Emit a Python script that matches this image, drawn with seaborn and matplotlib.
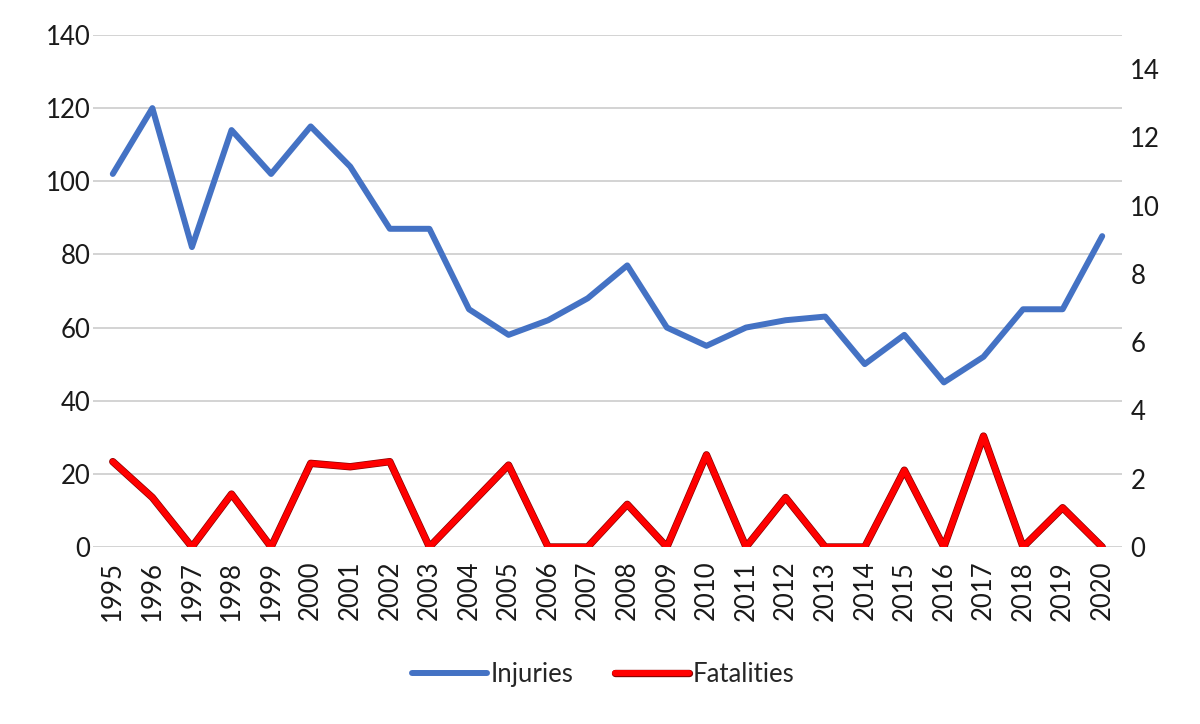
import matplotlib
matplotlib.use("Agg")
import matplotlib.pyplot as plt
import matplotlib.patheffects as pe
import seaborn as sns
import pandas as pd

years = list(range(1995, 2021))
injuries = [102, 120, 82, 114, 102, 115, 104, 87, 87, 65, 58, 62, 68, 77, 60,
            55, 60, 62, 63, 50, 58, 45, 52, 65, 65, 85]
fatalities = [2.5, 1.45, 0, 1.55, 0, 2.45, 2.35, 2.5, 0, 1.2, 2.4, 0, 0, 1.25, 0,
              2.7, 0, 1.45, 0, 0, 2.25, 0, 3.25, 0, 1.15, 0]

df = pd.DataFrame({"YEAR": [str(y) for y in years], "INJURIES": injuries, "FATALITIES": fatalities})
df["POS"] = range(len(df))

sns.set_style("white")
plt.rcParams["font.family"] = ["Lato", "DejaVu Sans"]

fig = plt.figure(figsize=(12, 7.24), dpi=100)
ax = fig.add_axes([0.0775, 0.2445, 0.8575, 0.7072])
ax2 = ax.twinx()

sns.lineplot(data=df, x="POS", y="INJURIES", ax=ax, color="#4472C4", linewidth=4.3,
             solid_capstyle="round", solid_joinstyle="round", label="Injuries", legend=False)
sns.lineplot(data=df, x="POS", y="FATALITIES", ax=ax2, color="#FF0000", linewidth=4.3,
             solid_capstyle="round", solid_joinstyle="round", label="Fatalities", legend=False,
             path_effects=[pe.Stroke(linewidth=5.3, foreground="#8a0000"), pe.Normal()])

ax.set_ylim(0, 140)
ax2.set_ylim(0, 15)
ax.set_yticks(range(0, 141, 20))
ax2.set_yticks(range(0, 15, 2))
ax.set_xlim(-0.5, len(years) - 0.5)
ax.set_xticks(df["POS"])
ax.set_xticklabels(df["YEAR"], rotation=90)

ax.yaxis.grid(True, color="#d0d0d0", linewidth=1.3)
ax.set_axisbelow(True)
ax.set_zorder(ax2.get_zorder() - 1)
ax2.patch.set_visible(False)
for a in (ax, ax2):
    for s in a.spines.values():
        s.set_visible(False)
    a.set_xlabel("")
    a.set_ylabel("")
    a.tick_params(length=0, labelsize=18.5, labelcolor="#1a1a1a")
ax.tick_params(axis="y", pad=2)
ax.tick_params(axis="x", pad=10)
ax2.tick_params(axis="y", pad=6)

h1, l1 = ax.get_legend_handles_labels()
h2, l2 = ax2.get_legend_handles_labels()
fig.legend(h1 + h2, l1 + l2, loc="center", bbox_to_anchor=(0.503, 0.068), ncol=2,
           frameon=False, fontsize=18.5, handlelength=2.9, handletextpad=0.15, columnspacing=1.6)

fig.savefig("out.png", dpi=100)
